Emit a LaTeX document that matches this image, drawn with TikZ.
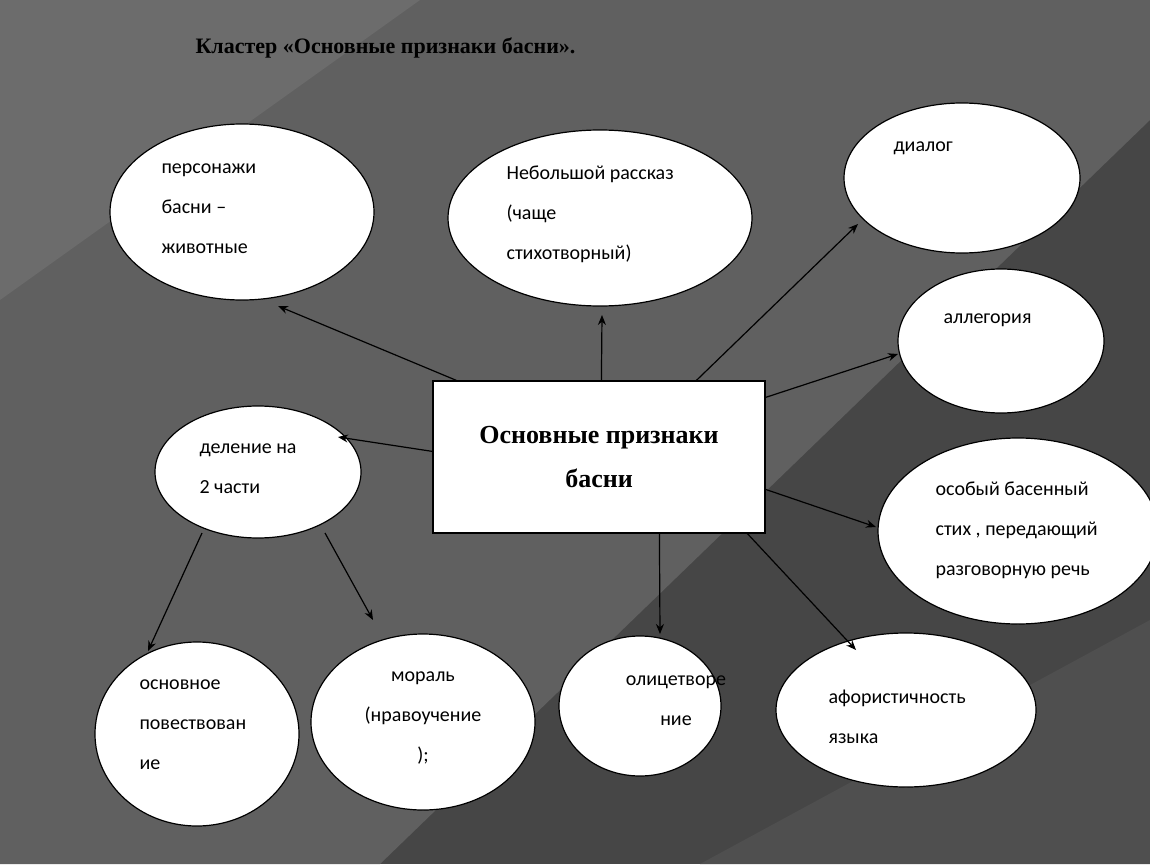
\documentclass[tikz,border=0pt]{standalone}
\usepackage{fontspec}
\setmainfont{Liberation Serif}
\newfontfamily\ellfont{Carlito}
\usetikzlibrary{shapes.geometric,arrows.meta,calc}
\begin{document}
\begin{tikzpicture}[x=1pt,y=-1pt,
  ell/.style={draw=black,line width=1.2pt,fill=white,ellipse},
  lab/.style={anchor=north west,align=left,font=\ellfont\fontsize{20}{40}\selectfont,text=black},
  arr/.style={line width=1.2pt,-{Stealth[length=10pt,width=8pt]}}]
\useasboundingbox (0,0) rectangle (1150,864);
\fill[gray!55!black] (0,0) rectangle (1150,864);
\fill[gray!75!black] (0,0) -- (1150,0) -- (1150,120) -- (380,864) -- (0,864) -- cycle;
\fill[gray!85!black] (0,0) -- (420,0) -- (0,300) -- cycle;
\fill[gray!62!black] (700,864) -- (1150,620) -- (1150,864) -- cycle;
\node[font=\bfseries\fontsize{22}{26}\selectfont,anchor=west] (title) at (192,48) {Кластер «Основные признаки басни».};
\node[ell,minimum width=264,minimum height=176] (e1) at (242,212) {};
\node[lab] at (158,160) {персонажи\\басни –\\животные};
\node[ell,minimum width=304,minimum height=176] (e2) at (600,218) {};
\node[lab] at (503,162) {Небольшой рассказ\\(чаще\\стихотворный)};
\node[ell,minimum width=236,minimum height=150] (e3) at (962,178) {};
\node[lab] at (890,138) {диалог};
\node[ell,minimum width=206,minimum height=144] (e4) at (1001,341) {};
\node[lab] at (940,310) {аллегория};
\node[ell,minimum width=280,minimum height=186] (e5) at (1018,531) {};
\node[lab] at (932,478) {особый басенный\\стих , передающий\\разговорную речь};
\node[ell,minimum width=206,minimum height=132] (e6) at (258,472) {};
\node[lab] at (196,440) {деление на\\2 части};
\node[ell,minimum width=204,minimum height=184] (e7) at (197,734) {};
\node[lab] at (136,676) {основное\\повествован\\ие};
\node[ell,minimum width=224,minimum height=176] (e8) at (423,722) {};
\node[lab,align=center,anchor=north] at (423,668) {мораль\\(нравоучение\\);};
\node[ell,minimum width=162,minimum height=140] (e9) at (640,706) {};
\node[lab,align=center,anchor=north] at (676,672) {олицетворе\\ние};
\node[ell,minimum width=260,minimum height=154] (e10) at (906,710) {};
\node[lab] at (825,686) {афористичность\\языка};
\node[draw=black,line width=1.2pt,fill=white,minimum width=332,minimum height=152,
  align=center,font=\bfseries\fontsize{26}{44}\selectfont] (c) at (599,457) {Основные признаки\\басни};
\coordinate (t1) at (278,306); \coordinate (t2) at (602,315); \coordinate (t3) at (858,224);
\coordinate (t4) at (898,354); \coordinate (t5) at (876,527); \coordinate (t6) at (338,437);
\coordinate (t7) at (660,634); \coordinate (t8) at (856,650); \coordinate (t9) at (148,651);
\coordinate (t10) at (373,620); \coordinate (s9) at (202,533); \coordinate (s10) at (325,533);
\draw[arr] ($(c.north west)+(24,0)$) -- (t1);
\draw[arr] ($(c.north west)+(169,0)$) -- (t2);
\draw[arr] ($(c.north west)+(264,0)$) -- (t3);
\draw[arr] ($(c.north east)+(0,17)$) -- (t4);
\draw[arr] ($(c.north east)+(0,109)$) -- (t5);
\draw[arr] ($(c.north west)+(0,71)$) -- (t6);
\draw[arr] ($(c.south west)+(227,0)$) -- (t7);
\draw[arr] ($(c.south west)+(315,0)$) -- (t8);
\draw[arr] (s9) -- (t9);
\draw[arr] (s10) -- (t10);
\end{tikzpicture}
\end{document}
